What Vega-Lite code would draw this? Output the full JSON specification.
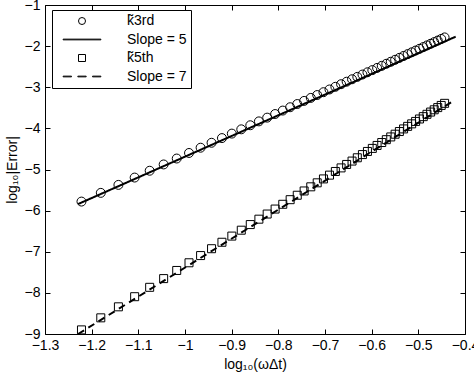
{
  "$schema": "https://vega.github.io/schema/vega-lite/v6.json",
  "width": 420,
  "height": 329,
  "autosize": {"type": "none"},
  "padding": {"left": 45, "top": 5, "right": 9, "bottom": 45},
  "background": "white",
  "config": {
    "view": {"stroke": null},
    "font": "Liberation Sans",
    "axis": {
      "domainColor": "black",
      "domainWidth": 1,
      "tickColor": "black",
      "tickSize": -5,
      "tickWidth": 1,
      "labelColor": "black",
      "labelFontSize": 14,
      "labelFont": "Liberation Sans",
      "titleFont": "Liberation Sans",
      "titleFontSize": 14,
      "titleFontWeight": "normal",
      "titleColor": "black",
      "grid": false
    }
  },
  "datasets": {
    "pts": [
      {"x": -1.22185, "y": -5.780, "series": "k̃3rd"},
      {"x": -1.18046, "y": -5.568, "series": "k̃3rd"},
      {"x": -1.14267, "y": -5.374, "series": "k̃3rd"},
      {"x": -1.10791, "y": -5.196, "series": "k̃3rd"},
      {"x": -1.07572, "y": -5.030, "series": "k̃3rd"},
      {"x": -1.04576, "y": -4.877, "series": "k̃3rd"},
      {"x": -1.01773, "y": -4.733, "series": "k̃3rd"},
      {"x": -0.99140, "y": -4.598, "series": "k̃3rd"},
      {"x": -0.96658, "y": -4.470, "series": "k̃3rd"},
      {"x": -0.94310, "y": -4.350, "series": "k̃3rd"},
      {"x": -0.92082, "y": -4.236, "series": "k̃3rd"},
      {"x": -0.89963, "y": -4.127, "series": "k̃3rd"},
      {"x": -0.87943, "y": -4.023, "series": "k̃3rd"},
      {"x": -0.86012, "y": -3.924, "series": "k̃3rd"},
      {"x": -0.84164, "y": -3.830, "series": "k̃3rd"},
      {"x": -0.82391, "y": -3.739, "series": "k̃3rd"},
      {"x": -0.80688, "y": -3.651, "series": "k̃3rd"},
      {"x": -0.79049, "y": -3.567, "series": "k̃3rd"},
      {"x": -0.77469, "y": -3.486, "series": "k̃3rd"},
      {"x": -0.75945, "y": -3.408, "series": "k̃3rd"},
      {"x": -0.74473, "y": -3.332, "series": "k̃3rd"},
      {"x": -0.73049, "y": -3.259, "series": "k̃3rd"},
      {"x": -0.71670, "y": -3.189, "series": "k̃3rd"},
      {"x": -0.70333, "y": -3.120, "series": "k̃3rd"},
      {"x": -0.69037, "y": -3.054, "series": "k̃3rd"},
      {"x": -0.67778, "y": -2.989, "series": "k̃3rd"},
      {"x": -0.66555, "y": -2.926, "series": "k̃3rd"},
      {"x": -0.65365, "y": -2.865, "series": "k̃3rd"},
      {"x": -0.64207, "y": -2.806, "series": "k̃3rd"},
      {"x": -0.63078, "y": -2.748, "series": "k̃3rd"},
      {"x": -0.61979, "y": -2.691, "series": "k̃3rd"},
      {"x": -0.60906, "y": -2.636, "series": "k̃3rd"},
      {"x": -0.59860, "y": -2.583, "series": "k̃3rd"},
      {"x": -0.58838, "y": -2.530, "series": "k̃3rd"},
      {"x": -0.57840, "y": -2.479, "series": "k̃3rd"},
      {"x": -0.56864, "y": -2.429, "series": "k̃3rd"},
      {"x": -0.55909, "y": -2.380, "series": "k̃3rd"},
      {"x": -0.54975, "y": -2.332, "series": "k̃3rd"},
      {"x": -0.54061, "y": -2.285, "series": "k̃3rd"},
      {"x": -0.53165, "y": -2.239, "series": "k̃3rd"},
      {"x": -0.52288, "y": -2.194, "series": "k̃3rd"},
      {"x": -0.51428, "y": -2.150, "series": "k̃3rd"},
      {"x": -0.50585, "y": -2.107, "series": "k̃3rd"},
      {"x": -0.49757, "y": -2.064, "series": "k̃3rd"},
      {"x": -0.48945, "y": -2.023, "series": "k̃3rd"},
      {"x": -0.48149, "y": -1.982, "series": "k̃3rd"},
      {"x": -0.47366, "y": -1.942, "series": "k̃3rd"},
      {"x": -0.46597, "y": -1.902, "series": "k̃3rd"},
      {"x": -0.45842, "y": -1.864, "series": "k̃3rd"},
      {"x": -0.45099, "y": -1.825, "series": "k̃3rd"},
      {"x": -0.44370, "y": -1.788, "series": "k̃3rd"},
      {"x": -1.22185, "y": -8.900, "series": "k̃5th"},
      {"x": -1.18046, "y": -8.607, "series": "k̃5th"},
      {"x": -1.14267, "y": -8.339, "series": "k̃5th"},
      {"x": -1.10791, "y": -8.093, "series": "k̃5th"},
      {"x": -1.07572, "y": -7.865, "series": "k̃5th"},
      {"x": -1.04576, "y": -7.653, "series": "k̃5th"},
      {"x": -1.01773, "y": -7.455, "series": "k̃5th"},
      {"x": -0.99140, "y": -7.268, "series": "k̃5th"},
      {"x": -0.96658, "y": -7.093, "series": "k̃5th"},
      {"x": -0.94310, "y": -6.926, "series": "k̃5th"},
      {"x": -0.92082, "y": -6.769, "series": "k̃5th"},
      {"x": -0.89963, "y": -6.619, "series": "k̃5th"},
      {"x": -0.87943, "y": -6.476, "series": "k̃5th"},
      {"x": -0.86012, "y": -6.339, "series": "k̃5th"},
      {"x": -0.84164, "y": -6.208, "series": "k̃5th"},
      {"x": -0.82391, "y": -6.083, "series": "k̃5th"},
      {"x": -0.80688, "y": -5.962, "series": "k̃5th"},
      {"x": -0.79049, "y": -5.846, "series": "k̃5th"},
      {"x": -0.77469, "y": -5.734, "series": "k̃5th"},
      {"x": -0.75945, "y": -5.626, "series": "k̃5th"},
      {"x": -0.74473, "y": -5.522, "series": "k̃5th"},
      {"x": -0.73049, "y": -5.421, "series": "k̃5th"},
      {"x": -0.71670, "y": -5.324, "series": "k̃5th"},
      {"x": -0.70333, "y": -5.229, "series": "k̃5th"},
      {"x": -0.69037, "y": -5.137, "series": "k̃5th"},
      {"x": -0.67778, "y": -5.048, "series": "k̃5th"},
      {"x": -0.66555, "y": -4.961, "series": "k̃5th"},
      {"x": -0.65365, "y": -4.877, "series": "k̃5th"},
      {"x": -0.64207, "y": -4.795, "series": "k̃5th"},
      {"x": -0.63078, "y": -4.715, "series": "k̃5th"},
      {"x": -0.61979, "y": -4.637, "series": "k̃5th"},
      {"x": -0.60906, "y": -4.561, "series": "k̃5th"},
      {"x": -0.59860, "y": -4.487, "series": "k̃5th"},
      {"x": -0.58838, "y": -4.415, "series": "k̃5th"},
      {"x": -0.57840, "y": -4.344, "series": "k̃5th"},
      {"x": -0.56864, "y": -4.275, "series": "k̃5th"},
      {"x": -0.55909, "y": -4.208, "series": "k̃5th"},
      {"x": -0.54975, "y": -4.142, "series": "k̃5th"},
      {"x": -0.54061, "y": -4.077, "series": "k̃5th"},
      {"x": -0.53165, "y": -4.013, "series": "k̃5th"},
      {"x": -0.52288, "y": -3.951, "series": "k̃5th"},
      {"x": -0.51428, "y": -3.890, "series": "k̃5th"},
      {"x": -0.50585, "y": -3.831, "series": "k̃5th"},
      {"x": -0.49757, "y": -3.772, "series": "k̃5th"},
      {"x": -0.48945, "y": -3.715, "series": "k̃5th"},
      {"x": -0.48149, "y": -3.658, "series": "k̃5th"},
      {"x": -0.47366, "y": -3.603, "series": "k̃5th"},
      {"x": -0.46597, "y": -3.548, "series": "k̃5th"},
      {"x": -0.45842, "y": -3.495, "series": "k̃5th"},
      {"x": -0.45099, "y": -3.442, "series": "k̃5th"},
      {"x": -0.44370, "y": -3.391, "series": "k̃5th"}
    ],
    "lines": [
      {"x": -1.229, "y": -5.84, "series": "Slope = 5"},
      {"x": -0.420, "y": -1.77, "series": "Slope = 5"},
      {"x": -1.229, "y": -9.00, "series": "Slope = 7"},
      {"x": -0.426, "y": -3.34, "series": "Slope = 7"}
    ]
  },
  "layer": [
    {
      "data": {"name": "lines"},
      "mark": {"type": "line", "color": "black", "strokeWidth": 2},
      "encoding": {
        "x": {
          "field": "x", "type": "quantitative",
          "scale": {"domain": [-1.3, -0.4], "nice": false, "zero": false},
          "axis": {
            "orient": "bottom",
            "values": [-1.3, -1.2, -1.1, -1.0, -0.9, -0.8, -0.7, -0.6, -0.5, -0.4],
            "format": ".1~f",
            "labelPadding": 9,
            "labelFlush": false,
            "title": "log₁₀(ωΔt)",
            "titlePadding": 5
          }
        },
        "y": {
          "field": "y", "type": "quantitative",
          "scale": {"domain": [-9, -1], "nice": false, "zero": false},
          "axis": {
            "orient": "left",
            "values": [-9, -8, -7, -6, -5, -4, -3, -2, -1],
            "format": "d",
            "labelPadding": 10,
            "labelFlush": false,
            "title": "log₁₀|Error|",
            "titlePadding": 5
          }
        },
        "detail": {"field": "series"},
        "strokeDash": {
          "field": "series", "type": "nominal",
          "scale": {"domain": ["Slope = 5", "Slope = 7"], "range": [[1, 0], [7, 5]]},
          "legend": null
        }
      }
    },
    {
      "data": {"name": "pts"},
      "mark": {"type": "point", "filled": false, "color": "black", "strokeWidth": 1, "opacity": 1},
      "encoding": {
        "x": {"field": "x", "type": "quantitative", "scale": {"domain": [-1.3, -0.4], "nice": false, "zero": false}, "axis": null},
        "y": {"field": "y", "type": "quantitative", "scale": {"domain": [-9, -1], "nice": false, "zero": false}, "axis": null},
        "size": {
          "field": "series", "type": "nominal",
          "scale": {"domain": ["k̃3rd", "k̃5th"], "range": [80, 64]},
          "legend": null
        },
        "shape": {
          "field": "series", "type": "nominal",
          "scale": {
            "domain": ["k̃3rd", "Slope = 5", "k̃5th", "Slope = 7"],
            "range": [
              "circle",
              "M-5.4,-0.1L5.4,-0.1L5.4,0.1L-5.4,0.1Z",
              "square",
              "M-5.4,-0.1L-3,-0.1L-3,0.1L-5.4,0.1ZM-1.2,-0.1L1.2,-0.1L1.2,0.1L-1.2,0.1ZM3,-0.1L5.4,-0.1L5.4,0.1L3,0.1Z"
            ]
          },
          "legend": {
            "title": null,
            "orient": "none",
            "legendX": 7,
            "legendY": 5,
            "padding": 4,
            "strokeColor": "black",
            "fillColor": "white",
            "cornerRadius": 0,
            "symbolSize": 49,
            "symbolStrokeColor": "black",
            "symbolFillColor": "transparent",
            "symbolStrokeWidth": 1,
            "symbolOffset": 19,
            "labelOffset": 38,
            "labelFontSize": 14,
            "labelFont": "Liberation Sans",
            "labelColor": "black",
            "rowPadding": 4.5,
            "labelLimit": 200
          }
        }
      }
    },
    {
      "data": {"name": "lines"},
      "mark": {"type": "point", "opacity": 0},
      "encoding": {
        "x": {
          "field": "x", "type": "quantitative",
          "scale": {"domain": [-1.3, -0.4], "nice": false, "zero": false},
          "axis": {"orient": "top", "values": [-1.3, -1.2, -1.1, -1.0, -0.9, -0.8, -0.7, -0.6, -0.5, -0.4], "labels": false, "title": null}
        },
        "y": {
          "field": "y", "type": "quantitative",
          "scale": {"domain": [-9, -1], "nice": false, "zero": false},
          "axis": {"orient": "right", "values": [-9, -8, -7, -6, -5, -4, -3, -2, -1], "labels": false, "title": null}
        }
      }
    }
  ],
  "resolve": {"axis": {"x": "independent", "y": "independent"}}
}
